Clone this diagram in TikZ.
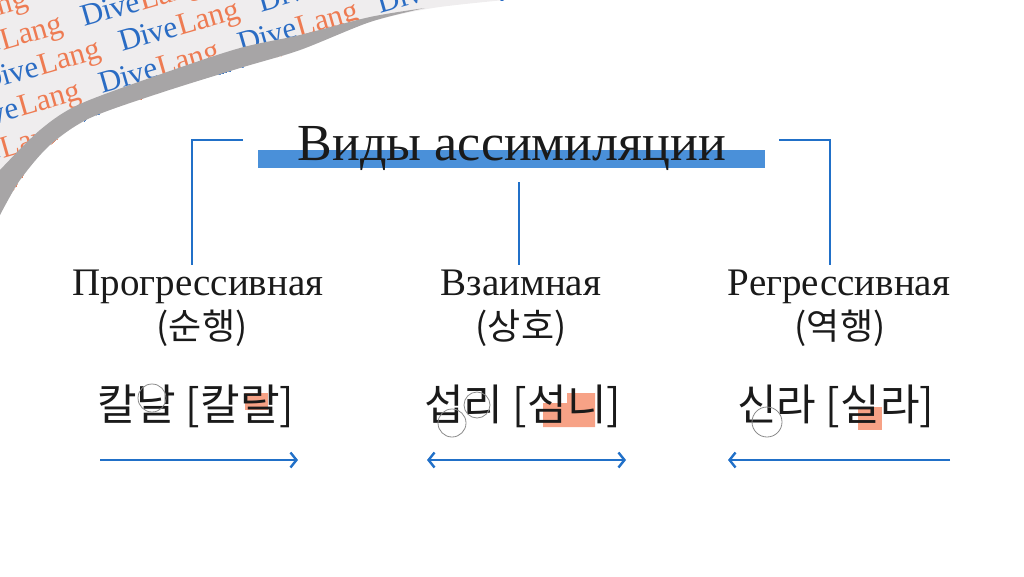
\documentclass[tikz,border=0pt]{standalone}
\usepackage{fontspec}
\setmainfont{Liberation Serif}
\newfontfamily\kor{Noto Sans CJK KR}
\usepackage{xcolor}
\usetikzlibrary{positioning,arrows.meta}

\definecolor{lineblue}{HTML}{2170C8}
\definecolor{barblue}{HTML}{4A90D9}
\definecolor{hlorange}{HTML}{F7A286}
\definecolor{paper}{HTML}{EFEDEE}
\definecolor{fold}{HTML}{A7A5A6}
\definecolor{logoblue}{HTML}{2A6CC4}
\definecolor{logoorange}{HTML}{EE7B52}
\definecolor{ink}{HTML}{1A1A1A}
\definecolor{ringgray}{HTML}{8A8A8A}

\begin{document}
\begin{tikzpicture}[x=1pt, y=-1pt,
  branch/.style={lineblue, line width=2pt},
  dirline/.style={lineblue, line width=2.4pt},
  kind/.style={font=\fontsize{39}{44}\selectfont, text=ink, inner sep=0pt, anchor=base},
  kindko/.style={font=\kor\fontsize{36}{40}\selectfont, text=ink, inner sep=0pt},
  example/.style={font=\kor\fontsize{43}{48}\selectfont, text=ink, inner sep=0pt, anchor=west},
  ringmark/.style={draw=ringgray, line width=0.8pt},
  hl/.style={fill=hlorange},
  logo/.style={font=\fontsize{31}{33}\selectfont, rotate=16, anchor=base west, inner sep=0pt}]

\useasboundingbox (0,0) rectangle (1024,576);

% folded corner with the logo pattern
\begin{scope}
\clip (0,0) -- (505,0) -- plot[smooth] coordinates {(505,0) (433,8) (370,22) (300,50) (240,68) (160,93) (90,118) (50,145) (20,180) (0,215)} -- cycle;
\fill[paper] (0,0) rectangle (505,220);
\foreach \j/\sx/\by in {-3/14/-21, -2/-90/15, -1/-55/51, 0/-17/87, 1/-37/123, 2/-55/159, 3/-75/195}
  \foreach \i in {0,...,4}{
    \pgfmathsetmacro{\px}{\sx+139*\i}
    \pgfmathsetmacro{\py}{\by-0.287*\px}
    \node[logo] (w\i\j) at (\px,\py) {\textcolor{logoblue}{Dive}\textcolor{logoorange}{Lang}};
  }
\end{scope}
\fill[fold] plot[smooth] coordinates {(0,170) (40,130) (80,104) (167,72) (240,48) (300,35) (370,17) (425,8)}
  -- plot[smooth] coordinates {(425,8) (370,22) (300,50) (240,68) (160,93) (90,118) (50,145) (20,180) (0,215)} -- cycle;

% title
\fill[barblue] (258,150) rectangle (765,168);
\node[font=\fontsize{52}{58}\selectfont, text=ink, inner sep=0pt, anchor=base] (title) at (512,160) {Виды ассимиляции};

\coordinate (lTop) at (243,140);
\coordinate (lBot) at (192,265);
\coordinate (rTop) at (779,140);
\coordinate (rBot) at (830,265);
\coordinate (mTop) at (519,182);
\coordinate (mBot) at (519,265);
\draw[branch] (lTop) -| (lBot);
\draw[branch] (rTop) -| (rBot);
\draw[branch] (mTop) -- (mBot);

% three kinds
\node[kind] (prog) at (198,295) {Прогрессивная};
\node[kindko] (progko) at (202,328) {(순행)};
\node[kind] (mutual) at (521,295) {Взаимная};
\node[kindko] (mutualko) at (521,328) {(상호)};
\node[kind] (regr) at (839,295) {Регрессивная};
\node[kindko] (regrko) at (840,328) {(역행)};

% highlights
\fill[hl] (245,393) rectangle (268,410);
\fill[hl] (543,403) -- (567,403) -- (567,393) -- (595,393) -- (595,427) -- (543,427) -- cycle;
\fill[hl] (858,407) rectangle (882,430);

\node[example] (ex1) at (97,406) {칼날 [칼랄]};
\node[example] (ex2) at (424,406) {섭리 [섬니]};
\node[example] (ex3) at (737,406) {신라 [실라]};

\draw[ringmark] (152,398) circle (14);
\draw[ringmark] (452,423) circle (14);
\draw[ringmark] (477,405) circle (13);
\draw[ringmark] (767,422) circle (15);

% direction arrows
\coordinate (a1s) at (100,460);
\coordinate (a1e) at (298,460);
\coordinate (a2s) at (427,460);
\coordinate (a2e) at (626,460);
\coordinate (a3s) at (950,460);
\coordinate (a3e) at (728,460);
\draw[dirline, -{Straight Barb[length=6pt, width=15pt]}] (a1s) -- (a1e);
\draw[dirline, {Straight Barb[length=6pt, width=15pt]}-{Straight Barb[length=6pt, width=15pt]}] (a2s) -- (a2e);
\draw[dirline, -{Straight Barb[length=6pt, width=15pt]}] (a3s) -- (a3e);
\end{tikzpicture}
\end{document}
